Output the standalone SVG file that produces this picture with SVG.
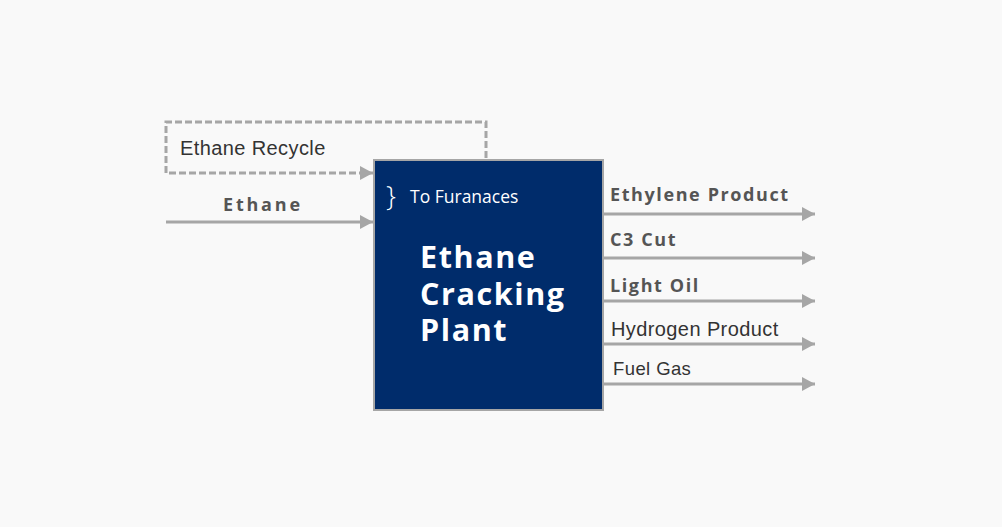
<svg xmlns="http://www.w3.org/2000/svg" width="1002" height="527" viewBox="0 0 1002 527">
<style>
.ln{stroke:#a6a6a6;stroke-width:3;fill:none}
.bl{font-family:"Open Sans","Liberation Sans",sans-serif;font-weight:bold;fill:#555;font-size:18px;letter-spacing:1.6px}
.rl{font-family:"Liberation Sans",Arial,sans-serif;fill:#333;font-size:20px;letter-spacing:0.4px}
.wt{font-family:"Open Sans","Liberation Sans",sans-serif;fill:#fff}
.tt{font-size:30.5px;font-weight:bold;letter-spacing:1.6px}
</style>
<defs>
<marker id="ah" markerWidth="13" markerHeight="14" refX="13" refY="7" orient="auto" markerUnits="userSpaceOnUse">
<path d="M0,0 L13,7 L0,14 Z" fill="#a6a6a6"/>
</marker>
</defs>
<rect width="1002" height="527" fill="#f9f9f9"/>
<g id="connectors">
<path class="ln" d="M486,158 V122 H166 V173 H373" stroke-dasharray="7,3" marker-end="url(#ah)"/>
<path class="ln" d="M166,222 H373" marker-end="url(#ah)"/>
<path class="ln" d="M604,214 H815" marker-end="url(#ah)"/>
<path class="ln" d="M604,258 H815" marker-end="url(#ah)"/>
<path class="ln" d="M604,301 H815" marker-end="url(#ah)"/>
<path class="ln" d="M604,344 H815" marker-end="url(#ah)"/>
<path class="ln" d="M604,384 H815" marker-end="url(#ah)"/>
</g>
<g id="labels">
<text class="rl" x="180" y="155">Ethane Recycle</text>
<text class="bl" x="223" y="211" style="letter-spacing:2.8px">Ethane</text>
<text class="bl" x="610" y="201">Ethylene Product</text>
<text class="bl" x="610" y="246">C3 Cut</text>
<text class="bl" x="610" y="292">Light Oil</text>
<text class="rl" x="611" y="336">Hydrogen Product</text>
<text class="rl" x="613" y="375" style="font-size:18.5px">Fuel Gas</text>
</g>
<g id="plant">
<rect x="374" y="160" width="229" height="250" fill="#002c6b" stroke="#a6a6a6" stroke-width="2"/>
<text class="wt" x="386" y="206" style="font-size:28px;font-weight:300">}</text>
<text class="wt" x="410" y="203" style="font-size:17.5px">To Furanaces</text>
<text class="wt tt"><tspan x="420" y="268">Ethane</tspan><tspan x="420" y="305">Cracking</tspan><tspan x="420" y="341">Plant</tspan></text>
</g>
</svg>
